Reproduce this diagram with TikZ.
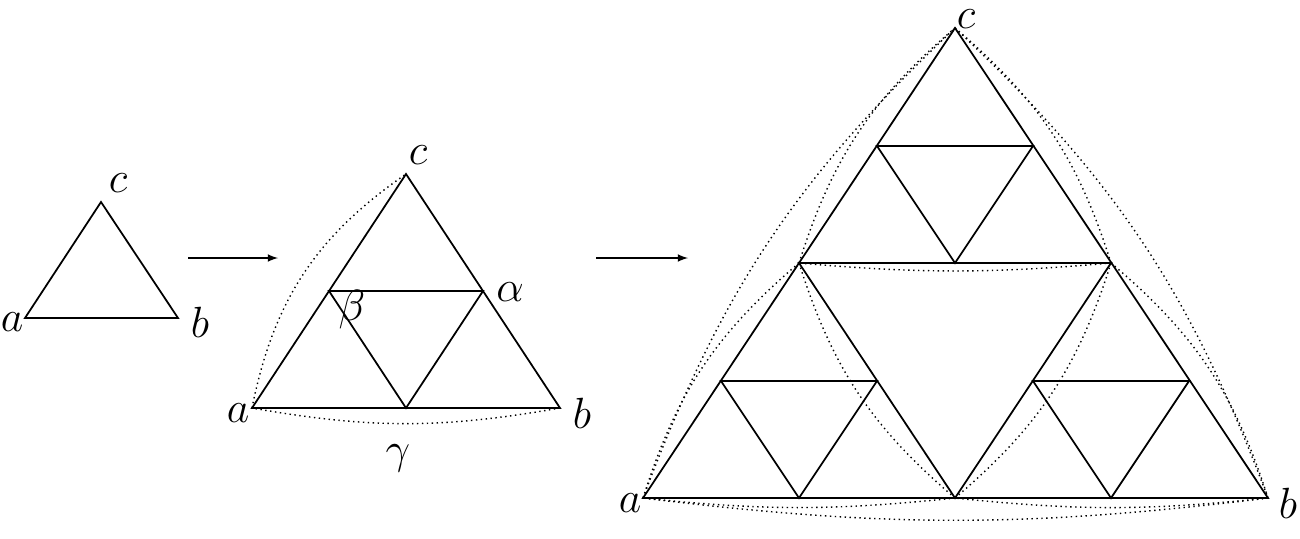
\documentclass[tikz,border=0pt]{standalone}
\begin{document}
\begin{tikzpicture}[x=0.02cm,y=-0.02cm,line width=1pt,
 dot/.style={dotted,line width=0.8pt},lab/.style={font=\Huge}]
\useasboundingbox (0,0) rectangle (1300,538);
% triangle 1
\coordinate (a1) at (25,318); \coordinate (b1) at (178,318); \coordinate (c1) at (101,202);
\draw (a1)--(b1)--(c1)--cycle;
\node[lab] (la1) at (12,322) {$a$}; \node[lab] (lb1) at (200,322) {$b$}; \node[lab] (lc1) at (118,183) {$c$};
% arrows
\coordinate (s1) at (188,258); \coordinate (e1) at (278,258);
\coordinate (s2) at (596,258); \coordinate (e2) at (688,258);
\draw[-latex] (s1)--(e1); \draw[-latex] (s2)--(e2);
% triangle 2
\coordinate (a2) at (252,408); \coordinate (b2) at (560,408); \coordinate (c2) at (406,174);
\coordinate (m1) at (329,291); \coordinate (m2) at (483,291); \coordinate (m3) at (406,408);
\draw (a2)--(b2)--(c2)--cycle; \draw (m1)--(m2)--(m3)--cycle;
\draw[dot] (a2) to[bend left=22] (c2);
\draw[dot] (b2) to[bend left=10] (a2);
\node[lab] at (238,413) {$a$}; \node[lab] at (582,413) {$b$}; \node[lab] at (418,155) {$c$};
\node[lab] at (510,292) {$\alpha$}; \node[lab] at (352,310) {$\beta$}; \node[lab] at (398,458) {$\gamma$};
% triangle 3
\coordinate (A) at (643,498); \coordinate (B) at (1268,498); \coordinate (C) at (955,28);
\coordinate (P) at (799,263); \coordinate (Q) at (1111,263); \coordinate (R) at (955,498);
\draw (A)--(B)--(C)--cycle; \draw (P)--(Q)--(R)--cycle;
\draw (721,381)--(877,381)--(799,498)--cycle;
\draw (1033,381)--(1189,381)--(1111,498)--cycle;
\draw (877,146)--(1033,146)--(955,263)--cycle;
\draw[dot] (A) to[bend left=13] (C);
\draw[dot] (C) to[bend left=13] (B);
\draw[dot] (B) to[bend left=7] (A);
\draw[dot] (A) to[bend left=16] (P);
\draw[dot] (P) to[bend left=16] (C);
\draw[dot] (C) to[bend left=16] (Q);
\draw[dot] (Q) to[bend left=16] (B);
\draw[dot] (B) to[bend left=6] (R);
\draw[dot] (R) to[bend left=6] (A);
\draw[dot] (Q) to[bend left=5] (P);
\draw[dot] (R) to[bend left=16] (P);
\draw[dot] (Q) to[bend left=16] (R);
\node[lab] at (630,503) {$a$}; \node[lab] at (1288,503) {$b$}; \node[lab] at (966,19) {$c$};
\end{tikzpicture}
\end{document}
